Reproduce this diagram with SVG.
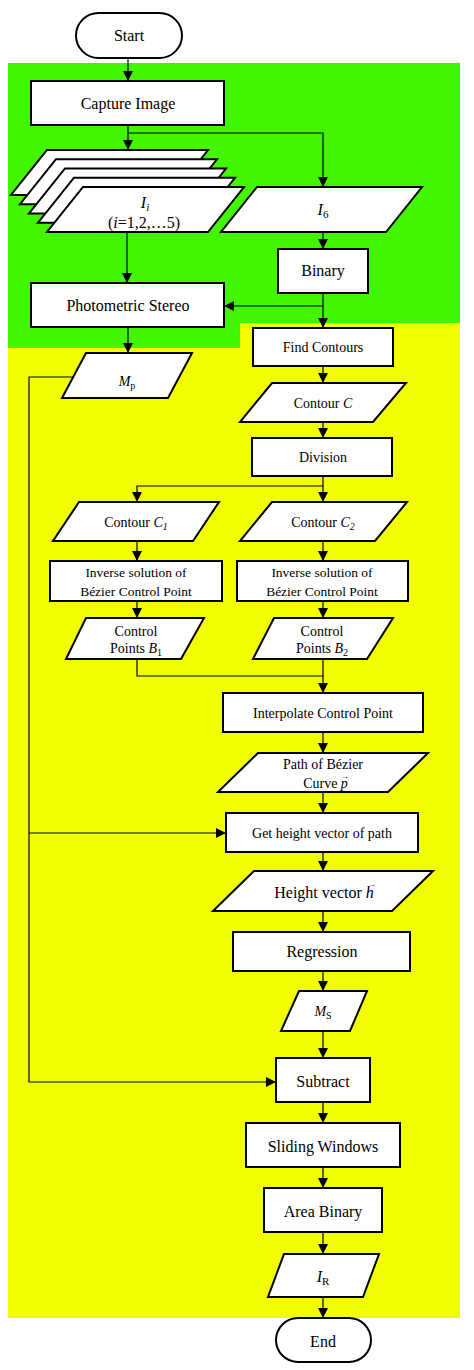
<svg xmlns="http://www.w3.org/2000/svg" width="474" height="1370" viewBox="0 0 474 1370">
<style>
.box{fill:#fff;stroke:#000;stroke-width:2}
.t{font-family:"Liberation Serif","Times New Roman",serif;font-size:16px;text-anchor:middle;fill:#000}
.s14{font-size:14px}
.s13{font-size:13.5px}
.it{font-style:italic}
.ln{fill:none;stroke:#000;stroke-width:1.2}
</style>
<defs>
<marker id="ah" markerWidth="10" markerHeight="10" refX="10" refY="5" orient="auto" markerUnits="userSpaceOnUse"><path d="M0,0 L10,5 L0,10 z" fill="#000"/></marker>
</defs>
<rect x="0" y="0" width="474" height="1370" fill="#fff"/>
<polygon points="8,63 460,63 460,323 240,323 240,348 8,348" fill="#44F500"/>
<polygon points="240,323 460,323 460,1318 8,1318 8,348 240,348" fill="#F2FF00"/>

<g id="connectors">
<path class="ln" d="M128,58 V81" marker-end="url(#ah)"/>
<path class="ln" d="M128,125 V150" marker-end="url(#ah)"/>
<path class="ln" d="M128,133 H323 V187" marker-end="url(#ah)"/>
<path class="ln" d="M127,232 V283" marker-end="url(#ah)"/>
<path class="ln" d="M323,232 V249" marker-end="url(#ah)"/>
<path class="ln" d="M323,293 V328" marker-end="url(#ah)"/>
<path class="ln" d="M323,306 H224" marker-end="url(#ah)"/>
<path class="ln" d="M128,327 V353" marker-end="url(#ah)"/>
<path class="ln" d="M323,366 V383" marker-end="url(#ah)"/>
<path class="ln" d="M323,422 V438" marker-end="url(#ah)"/>
<path class="ln" d="M323,476 V502" marker-end="url(#ah)"/>
<path class="ln" d="M323,486 H137 V502" marker-end="url(#ah)"/>
<path class="ln" d="M137,541 V561" marker-end="url(#ah)"/>
<path class="ln" d="M323,541 V561" marker-end="url(#ah)"/>
<path class="ln" d="M137,601 V618" marker-end="url(#ah)"/>
<path class="ln" d="M323,601 V618" marker-end="url(#ah)"/>
<path class="ln" d="M137,659 V676 H323"/>
<path class="ln" d="M323,659 V693" marker-end="url(#ah)"/>
<path class="ln" d="M323,732 V753" marker-end="url(#ah)"/>
<path class="ln" d="M323,792 V813" marker-end="url(#ah)"/>
<path class="ln" d="M323,852 V871" marker-end="url(#ah)"/>
<path class="ln" d="M323,911 V932" marker-end="url(#ah)"/>
<path class="ln" d="M323,971 V991" marker-end="url(#ah)"/>
<path class="ln" d="M323,1031 V1058" marker-end="url(#ah)"/>
<path class="ln" d="M323,1102 V1123" marker-end="url(#ah)"/>
<path class="ln" d="M323,1167 V1188" marker-end="url(#ah)"/>
<path class="ln" d="M323,1232 V1254" marker-end="url(#ah)"/>
<path class="ln" d="M323,1297 V1318" marker-end="url(#ah)"/>
<path class="ln" d="M73,377 H29 V1082 H276" marker-end="url(#ah)"/>
<path class="ln" d="M29,833 H226" marker-end="url(#ah)"/>
</g>

<g id="start"><rect class="box" x="76" y="13" width="106" height="45" rx="22.5"/><text class="t" x="129" y="41">Start</text></g>
<g id="capture"><rect class="box" x="31" y="81" width="193" height="44"/><text class="t" x="128" y="109">Capture Image</text></g>
<g id="images">
<polygon class="box" points="47,150 208,150 172,195 11,195"/>
<polygon class="box" points="56,159.25 217,159.25 181,204.25 20,204.25"/>
<polygon class="box" points="65,168.5 226,168.5 190,213.5 29,213.5"/>
<polygon class="box" points="74,177.75 235,177.75 199,222.75 38,222.75"/>
<polygon class="box" points="83,187 244,187 208,232 47,232"/>
<text class="t" x="145" y="208"><tspan class="it">I</tspan><tspan class="it" font-size="11" dy="3">i</tspan></text>
<text class="t" x="144" y="228">(<tspan class="it">i</tspan>=1,2,…5)</text>
</g>
<g id="i6"><polygon class="box" points="257,187 422,187 386,232 221,232"/><text class="t" x="323" y="215"><tspan class="it">I</tspan><tspan font-size="11" dy="3">6</tspan></text></g>
<g id="binary"><rect class="box" x="278" y="249" width="90" height="44"/><text class="t" x="323" y="276">Binary</text></g>
<g id="photometric"><rect class="box" x="31" y="283" width="193" height="44"/><text class="t" x="128" y="311">Photometric Stereo</text></g>
<g id="findcontours"><rect class="box" x="253" y="328" width="140" height="38"/><text class="t s14" x="323" y="352">Find Contours</text></g>
<g id="mp"><polygon class="box" points="86,353 192,353 168,398 62,398"/><text class="t s14" x="127" y="386"><tspan class="it">M</tspan><tspan font-size="10" dy="3">p</tspan></text></g>
<g id="contourc"><polygon class="box" points="272,383 406,383 373,422 240,422"/><text class="t s14" x="323" y="408">Contour <tspan class="it">C</tspan></text></g>
<g id="division"><rect class="box" x="252" y="438" width="140" height="38"/><text class="t s14" x="323" y="462">Division</text></g>
<g id="contourc1"><polygon class="box" points="79,502 219,502 193,541 53,541"/><text class="t s14" x="136" y="527">Contour <tspan class="it">C</tspan><tspan class="it" font-size="10" dy="3">1</tspan></text></g>
<g id="contourc2"><polygon class="box" points="272,502 407,502 375,541 240,541"/><text class="t s14" x="323" y="527">Contour <tspan class="it">C</tspan><tspan class="it" font-size="10" dy="3">2</tspan></text></g>
<g id="inverse1"><rect class="box" x="50" y="561" width="172" height="40"/><text class="t s13" x="136" y="577">Inverse solution  of</text><text class="t s13" x="136" y="596">Bézier Control Point</text></g>
<g id="inverse2"><rect class="box" x="237" y="561" width="171" height="40"/><text class="t s13" x="322" y="577">Inverse solution  of</text><text class="t s13" x="322" y="596">Bézier Control Point</text></g>
<g id="b1"><polygon class="box" points="86,618 204,618 181,659 66,659"/><text class="t s14" x="136" y="636">Control</text><text class="t s14" x="136" y="653">Points <tspan class="it">B</tspan><tspan font-size="10" dy="3">1</tspan></text></g>
<g id="b2"><polygon class="box" points="274,618 393,618 367,659 253,659"/><text class="t s14" x="322" y="636">Control</text><text class="t s14" x="322" y="653">Points <tspan class="it">B</tspan><tspan font-size="10" dy="3">2</tspan></text></g>
<g id="interpolate"><rect class="box" x="223" y="693" width="200" height="39"/><text class="t s14" x="323" y="718">Interpolate Control Point</text></g>
<g id="path"><polygon class="box" points="258,753 428,753 388,792 218,792"/><text class="t s14" x="323" y="769">Path of Bézier</text><text class="t s14" x="326" y="788">Curve <tspan class="it">p</tspan><tspan font-size="8" dx="-7" dy="-9">→</tspan></text></g>
<g id="getheight"><rect class="box" x="226" y="813" width="192" height="39"/><text class="t s14" x="322" y="838">Get height vector of path</text></g>
<g id="heightvec"><polygon class="box" points="254,871 433,871 392,911 213,911"/><text class="t" font-size="14.5" x="325" y="898">Height vector <tspan class="it">h</tspan><tspan font-size="8" dx="-6" dy="-11">→</tspan></text></g>
<g id="regression"><rect class="box" x="233" y="932" width="177" height="39"/><text class="t" font-size="14.5" x="322" y="957">Regression</text></g>
<g id="ms"><polygon class="box" points="299,991 367,991 350,1031 281,1031"/><text class="t s14" x="323" y="1016"><tspan class="it">M</tspan><tspan font-size="10" dy="3">S</tspan></text></g>
<g id="subtract"><rect class="box" x="276" y="1058" width="94" height="44"/><text class="t" x="323" y="1087">Subtract</text></g>
<g id="sliding"><rect class="box" x="246" y="1123" width="154" height="44"/><text class="t" x="323" y="1152">Sliding Windows</text></g>
<g id="areabinary"><rect class="box" x="264" y="1188" width="118" height="44"/><text class="t" x="323" y="1217">Area Binary</text></g>
<g id="ir"><polygon class="box" points="284,1254 379,1254 363,1297 268,1297"/><text class="t" x="323" y="1282"><tspan class="it">I</tspan><tspan font-size="11" dy="3">R</tspan></text></g>
<g id="end"><rect class="box" x="276" y="1318" width="95" height="44" rx="22"/><text class="t" x="323" y="1347">End</text></g>
</svg>
